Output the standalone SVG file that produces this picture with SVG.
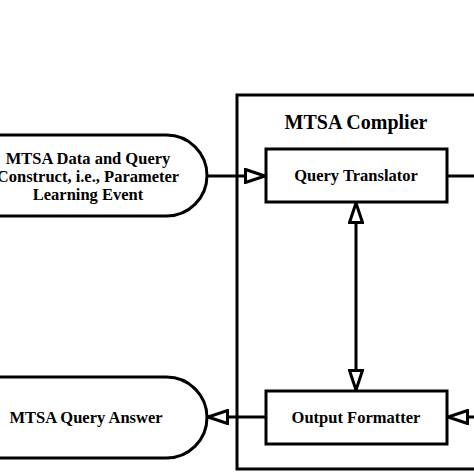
<svg xmlns="http://www.w3.org/2000/svg" width="474" height="474" viewBox="0 0 474 474">
<defs>
<style>
.s{fill:#fff;stroke:#000;stroke-width:3}
.l{fill:none;stroke:#000;stroke-width:3}
.t{font-family:"Liberation Serif","Times New Roman",serif;font-weight:bold;font-size:16.5px;text-anchor:middle;fill:#000}
.h{font-size:20px}
</style>
<marker id="ah" viewBox="0 0 22 16" refX="21" refY="8" markerWidth="22" markerHeight="16" markerUnits="userSpaceOnUse" orient="auto-start-reverse">
<path d="M1.5,1.5 L21,8 L1.5,14.5 Z" fill="#fff" stroke="#000" stroke-width="3" stroke-linejoin="miter"/>
</marker>
</defs>
<rect width="474" height="474" fill="#fff"/>
<g id="compiler">
<rect class="l" x="237" y="95" width="260" height="374"/>
<text class="t h" x="356" y="129">MTSA Complier</text>
</g>
<g id="input">
<rect class="s" x="-60" y="135" width="267" height="81" rx="40.5"/>
<text class="t" x="88" y="164">MTSA Data and Query</text>
<text class="t" x="88" y="182">Construct, i.e., Parameter</text>
<text class="t" x="88" y="200">Learning Event</text>
</g>
<g id="answer">
<rect class="s" x="-60" y="377" width="267" height="81" rx="40.5"/>
<text class="t" x="86" y="423">MTSA Query Answer</text>
</g>
<g id="translator">
<rect class="s" x="266" y="149" width="181" height="53"/>
<text class="t" x="356" y="181">Query Translator</text>
</g>
<g id="formatter">
<rect class="s" x="266" y="391" width="181" height="53"/>
<text class="t" x="356" y="423">Output Formatter</text>
</g>
<g id="connectors">
<line class="l" x1="207" y1="176" x2="265" y2="176" marker-end="url(#ah)"/>
<line class="l" x1="447" y1="176" x2="474" y2="176"/>
<line class="l" x1="356" y1="203" x2="356" y2="390" marker-start="url(#ah)" marker-end="url(#ah)"/>
<line class="l" x1="266" y1="417" x2="208" y2="417" marker-end="url(#ah)"/>
<line class="l" x1="476" y1="417" x2="448" y2="417" marker-end="url(#ah)"/>
</g>
</svg>
